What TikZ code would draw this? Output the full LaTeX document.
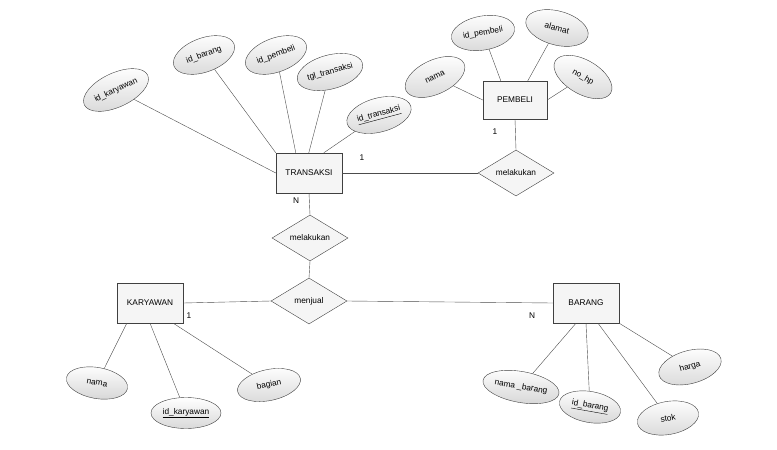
\documentclass[tikz,border=0pt]{standalone}
\usepackage{fontspec}
\setmainfont{Liberation Sans}
\usetikzlibrary{shapes.geometric}
\begin{document}
\begin{tikzpicture}[x=1pt,y=-1pt,font=\fontsize{8.3}{10}\selectfont,
  ent/.style={draw=black!75,fill=black!4,minimum width=66pt,minimum height=40pt,inner sep=0pt},
  att/.style={ellipse,draw=black!75,top color=white,bottom color=black!15,minimum width=#1,minimum height=34pt,inner sep=0.5pt},
  att/.default=64pt,
  rel/.style={diamond,draw=black!75,fill=black!4,minimum width=76pt,minimum height=46pt,inner sep=0pt,aspect=1.65},
  ln/.style={draw=black!70}]
\useasboundingbox (0,0) rectangle (777,450);
\node[ent] (tr) at (309,173) {TRANSAKSI};
\node[ent,minimum width=64pt,minimum height=38pt] (pb) at (515,100) {PEMBELI};
\node[ent] (ky) at (150,303) {KARYAWAN};
\node[ent] (br) at (586,303) {BARANG};
\node[rel] (r1) at (516,173) {melakukan};
\node[rel] (r2) at (310,238) {melakukan};
\node[rel] (r3) at (309,301) {menjual};
% transaksi attributes
\node[att=70pt,rotate=25] (a1) at (116,90) {id\_karyawan};
\node[att,rotate=20] (a2) at (204,55) {id\_barang};
\node[att,rotate=20] (a3) at (276,55) {id\_pembeli};
\node[att=66pt,rotate=15] (a4) at (330,72) {tgl\_transaksi};
\node[att=66pt,rotate=15] (a5) at (379,115) {\underline{id\_transaksi}};
% pembeli attributes
\node[att,rotate=25] (p1) at (435,77) {nama};
\node[att,rotate=10] (p2) at (483,33) {id\_pembeli};
\node[att,rotate=-15] (p3) at (557,28) {alamat};
\node[att,rotate=-30] (p4) at (583,77) {no\_hp};
% karyawan attributes
\node[att=62pt,minimum height=31pt,rotate=-10] (k1) at (97,383) {nama};
\node[att=70pt,minimum height=31pt] (k2) at (186,413) {\underline{id\_karyawan}};
\node[att=64pt,minimum height=31pt,rotate=12] (k3) at (269,385) {bagian};
% barang attributes
\node[att=68pt,minimum height=31pt,rotate=-10] (b1) at (521,387) {nama \_barang};
\node[att=62pt,minimum height=31pt,rotate=-10] (b2) at (590,407) {\underline{id\_barang}};
\node[att=62pt,minimum height=33pt,rotate=10] (b3) at (668,418) {stok};
\node[att=64pt,minimum height=33pt,rotate=15] (b4) at (690,367) {harga};
% connectors
\draw[ln] (a1) -- (tr.west);
\draw[ln] (a2) -- (tr.north west);
\draw[ln] (a3) -- ([xshift=20pt]tr.north west);
\draw[ln] (a4) -- ([xshift=33pt]tr.north west);
\draw[ln] (a5) -- ([xshift=48pt]tr.north west);
\draw[ln] (p1) -- (pb.west);
\draw[ln] (p2) -- ([xshift=18pt]pb.north west);
\draw[ln] (p3) -- ([xshift=45pt]pb.north west);
\draw[ln] (p4) -- (pb.east);
\draw[ln] (tr.east) -- (r1.west);
\draw[ln] (pb.south) -- (r1.north);
\draw[ln] (tr.south) -- (r2.north);
\draw[ln] (r2.south) -- (r3.north);
\draw[ln] (ky.east) -- (r3.west);
\draw[ln] (r3.east) -- (br.west);
\draw[ln] ([xshift=10pt]ky.south west) -- (k1);
\draw[ln] (ky.south) -- (k2);
\draw[ln] ([xshift=-10pt]ky.south east) -- (k3);
\draw[ln] ([xshift=-10pt]br.south) -- (b1);
\draw[ln] (br.south) -- (b2);
\draw[ln] ([xshift=12pt]br.south) -- (b3);
\draw[ln] (br.south east) -- (b4);
% cardinalities
\node (c1) at (362,158) {1};
\node (c2) at (495,132) {1};
\node (c3) at (296,201) {N};
\node (c4) at (189,316) {1};
\node (c5) at (532,316) {N};
\end{tikzpicture}
\end{document}
